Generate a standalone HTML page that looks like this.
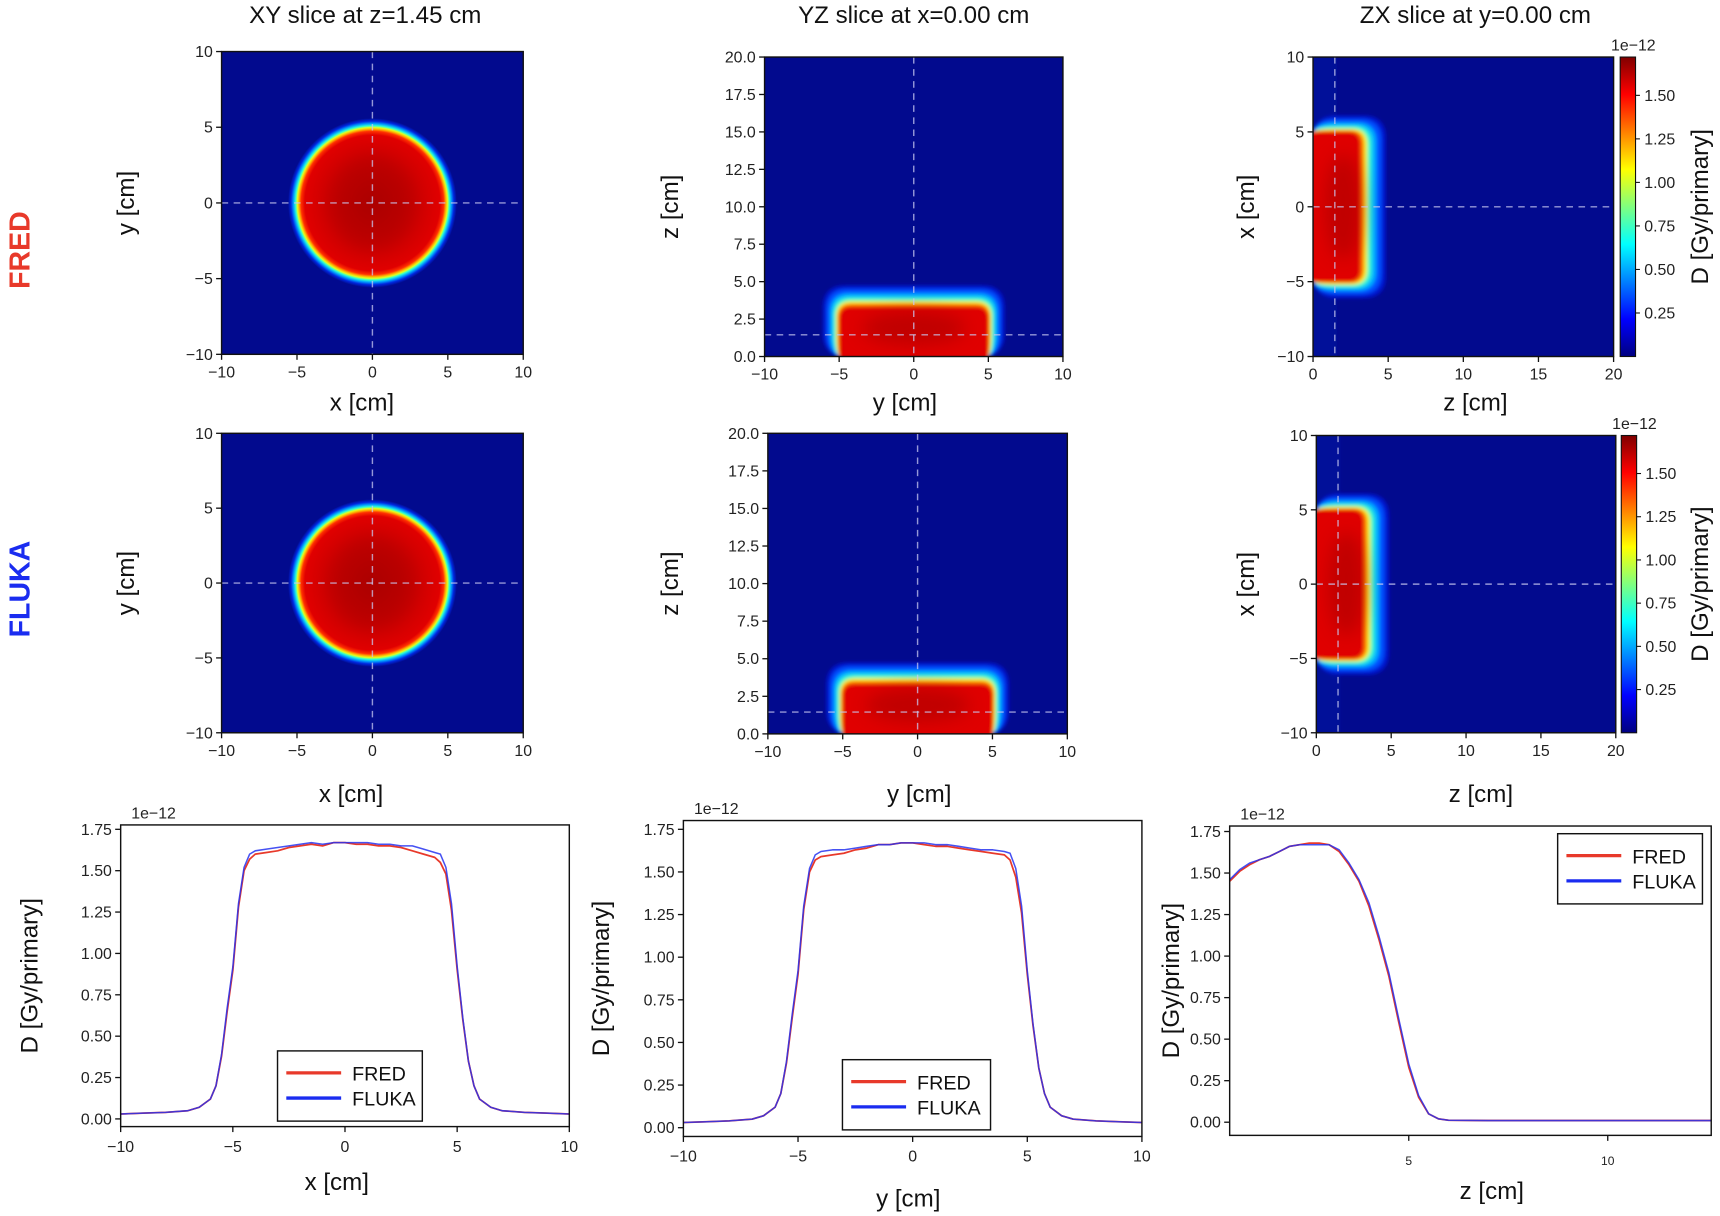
<!DOCTYPE html>
<html><head><meta charset="utf-8">
<style>
html,body{margin:0;padding:0;background:#fff;}
svg{display:block;font-family:"Liberation Sans",sans-serif;}
</style></head>
<body>
<svg id="fig" width="1720" height="1216" viewBox="0 0 1568 1108.5" preserveAspectRatio="none" xmlns="http://www.w3.org/2000/svg">
<defs>
<linearGradient id="jet" x1="0" y1="1" x2="0" y2="0">
<stop offset="0" stop-color="#000080"/><stop offset="0.125" stop-color="#0000ff"/>
<stop offset="0.375" stop-color="#00ffff"/><stop offset="0.625" stop-color="#ffff00"/>
<stop offset="0.875" stop-color="#ff0000"/><stop offset="1" stop-color="#800000"/>
</linearGradient>
<radialGradient id="disk" cx="0.5" cy="0.5" r="0.5">
<stop offset="0" stop-color="#b40000"/><stop offset="0.5" stop-color="#cc0000"/>
<stop offset="0.8" stop-color="#e00000"/><stop offset="0.845" stop-color="#ff3000"/>
<stop offset="0.87" stop-color="#ffb000"/><stop offset="0.89" stop-color="#e0ff20"/>
<stop offset="0.91" stop-color="#30ffd0"/><stop offset="0.935" stop-color="#00a0ff"/>
<stop offset="0.965" stop-color="#0028e0"/><stop offset="1" stop-color="#020a8e"/>
</radialGradient>
<filter id="soft" x="-20%" y="-20%" width="140%" height="140%"><feGaussianBlur stdDeviation="1.6"/></filter>
<filter id="soft2" x="-50%" y="-50%" width="200%" height="200%"><feGaussianBlur stdDeviation="8"/></filter>
</defs>
</svg>
<script>
// ---------- data ----------
const profXs = [-10,-9,-8,-7,-6.5,-6,-5.75,-5.5,-5.25,-5,-4.75,-4.5,-4.25,-4,-3.5,-3,-2.5,-2,-1.5,-1,-0.5,0,0.5,1,1.5,2,2.5,3,3.5,4,4.25,4.5,4.75,5,5.25,5.5,5.75,6,6.5,7,8,9,10];
const xFred  = [0.03,0.035,0.04,0.05,0.07,0.12,0.2,0.38,0.65,0.9,1.28,1.5,1.57,1.6,1.61,1.62,1.64,1.65,1.66,1.65,1.67,1.67,1.66,1.66,1.65,1.65,1.64,1.62,1.6,1.58,1.55,1.48,1.26,0.9,0.6,0.35,0.2,0.12,0.07,0.05,0.04,0.035,0.03];
const xFluka = [0.03,0.035,0.04,0.05,0.07,0.12,0.2,0.39,0.67,0.92,1.3,1.52,1.6,1.62,1.63,1.64,1.65,1.66,1.67,1.66,1.67,1.67,1.67,1.67,1.66,1.66,1.65,1.65,1.63,1.61,1.6,1.52,1.3,0.92,0.61,0.35,0.2,0.12,0.07,0.05,0.04,0.035,0.03];
const yFred  = [0.03,0.035,0.04,0.05,0.07,0.12,0.2,0.38,0.65,0.9,1.28,1.5,1.57,1.59,1.6,1.61,1.63,1.64,1.66,1.66,1.67,1.67,1.66,1.65,1.65,1.64,1.63,1.62,1.61,1.6,1.57,1.47,1.26,0.9,0.6,0.35,0.2,0.12,0.07,0.05,0.04,0.035,0.03];
const yFluka = [0.03,0.035,0.04,0.05,0.07,0.12,0.2,0.39,0.67,0.92,1.3,1.52,1.6,1.62,1.63,1.63,1.64,1.65,1.66,1.66,1.67,1.67,1.67,1.66,1.66,1.65,1.64,1.63,1.63,1.62,1.61,1.52,1.3,0.92,0.61,0.35,0.2,0.12,0.07,0.05,0.04,0.035,0.03];
const depthZs = [0.5,0.75,1,1.25,1.5,1.75,2,2.25,2.5,2.75,3,3.25,3.5,3.75,4,4.25,4.5,4.75,5,5.25,5.5,5.75,6,7,8,10,12,12.6];
const zFred  = [1.45,1.51,1.55,1.58,1.6,1.63,1.66,1.67,1.68,1.68,1.67,1.63,1.55,1.45,1.3,1.1,0.88,0.6,0.33,0.15,0.05,0.02,0.012,0.01,0.01,0.01,0.01,0.01];
const zFluka = [1.46,1.52,1.56,1.58,1.6,1.63,1.66,1.67,1.67,1.67,1.67,1.64,1.56,1.46,1.32,1.12,0.9,0.62,0.35,0.16,0.05,0.02,0.012,0.01,0.01,0.01,0.01,0.01];
const doseTicks = [0,0.25,0.5,0.75,1.0,1.25,1.5,1.75];
const cbarTicks = [0.25,0.5,0.75,1.0,1.25,1.5];
const cbarMax = [1.72];
// dose-level contours of beam (half width, depth extent, colour)
const levelHalfWidth = [6.1,5.85,5.6,5.4,5.22,5.1,5.0];
const levelDepthYZ   = [4.75,4.5,4.2,3.95,3.72,3.52,3.32];
const levelDepthZX   = [4.85,4.55,4.2,3.9,3.62,3.38,3.15];
const levelColors    = ['#0018d0','#0050ff','#00b0ff','#30f8d0','#f0f020','#ff7000','#e00000'];
const beamRadius = [5.0];
const sliceZ = [1.45];

// ---------- helpers ----------
const svg = document.getElementById('fig');
const NS = 'http://www.w3.org/2000/svg';
function mk(tag, attrs, parent){ const e=document.createElementNS(NS,tag); for(const k in attrs) e.setAttribute(k,attrs[k]); (parent||svg).appendChild(e); return e; }
function txt(s, x, y, fs, parent, anchor, extra){ const t=mk('text',Object.assign({x:x,y:y,'font-size':fs,'text-anchor':anchor||'middle',fill:'#222'},extra||{}),parent); t.textContent=s; return t; }
function lin(d0,d1,r0,r1){ return v => r0 + (v-d0)/(d1-d0)*(r1-r0); }
function fmt(v,dec){ const s=Math.abs(v).toFixed(dec); return (v<0?'\u2212':'')+s; }

function axes(g,sx,sy,x0,x1,y0,y1,xt,yt,xdec,ydec,fs){
  const b = mk('rect',{x:x0,y:y0,width:x1-x0,height:y1-y0,fill:'none',stroke:'#111','stroke-width':1.3},g);
   
  xt.forEach(v=>{ const X=sx(v); mk('line',{x1:X,x2:X,y1:y1,y2:y1+5,stroke:'#111','stroke-width':1.2},g);
    const t=txt(fmt(v,xdec),X,y1+21,fs,g);   });
  yt.forEach(v=>{ const Y=sy(v); mk('line',{x1:x0-5,x2:x0,y1:Y,y2:Y,stroke:'#111','stroke-width':1.2},g);
    const t=txt(fmt(v,ydec),x0-8,Y+5,fs,g,'end');   });
}
function rotLabel(s,x,y,fs,parent,color,weight){
  const t=txt(s,0,0,fs,parent,'middle',{transform:`translate(${x},${y}) rotate(-90)`,fill:color||'#111','font-weight':weight||'normal'}); return t;
}

// ---------- titles ----------
[['XY slice at z=1.45 cm',333],['YZ slice at x=0.00 cm',833],['ZX slice at y=0.00 cm',1345]].forEach(([s,x])=>{
  const t=txt(s,x,21,22,svg,'middle',{fill:'#111'});
   
});
let r1=rotLabel('FRED',27,228,26,svg,'#e8392a','bold');
 
let r2=rotLabel('FLUKA',27,537,26,svg,'#1a2cf0','bold');
 

// ---------- heatmap panels ----------
let clipId=0;
function beamPath(sx,sy,w,h,r,orient){
  const P = orient==='yz' ? (a,b)=>[sx(a),sy(b)] : (a,b)=>[sx(b),sy(a)];
  const p=(a,b)=>P(a,b).join(',');
  return `M${p(-5,-0.3)} L${p(-5,0)} Q${p(-w,0.3)} ${p(-w,1.5)} L${p(-w,h-r)} Q${p(-w,h)} ${p(-w+r,h)} L${p(w-r,h)} Q${p(w,h)} ${p(w,h-r)} L${p(w,1.5)} Q${p(w,0.3)} ${p(5,0)} L${p(5,-0.3)} Z`;
}
function heatPanel(c){
  const g=mk('g',{});  
  const sx=lin(c.xd[0],c.xd[1],c.x0,c.x1), sy=lin(c.yd[0],c.yd[1],c.y1,c.y0);
  const id='clip'+(clipId++);
  const cp=mk('clipPath',{id:id},g); mk('rect',{x:c.x0,y:c.y0,width:c.x1-c.x0,height:c.y1-c.y0},cp);
  const hg=mk('g',{'clip-path':`url(#${id})`},g);
  const bg=mk('rect',{x:c.x0,y:c.y0,width:c.x1-c.x0,height:c.y1-c.y0,fill:'#020a8e'},hg);
   
  if(c.type==='xy'){
    const rr=(sx(beamRadius[0])-sx(0))/0.893;
    const ry=(sy(0)-sy(beamRadius[0]))/0.893;
    const e=mk('ellipse',{cx:sx(0),cy:sy(0),rx:rr,ry:ry,fill:'url(#disk)'},hg);
     
    mk('ellipse',{cx:sx(0),cy:sy(0),rx:rr*0.5,ry:ry*0.55,fill:'#a00000',opacity:0.35,filter:'url(#soft2)'},hg);
  } else {
    const bl=mk('g',{filter:'url(#soft)'},hg);
    if(c.type==='zx'){ mk('rect',{x:sx(0),y:c.y0,width:sx(1.6)-sx(0),height:c.y1-c.y0,fill:'#0618a6',opacity:0.45},bl); }
    const depth = c.type==='yz'?levelDepthYZ:levelDepthZX;
    levelHalfWidth.forEach((w,i)=>{
      const p=mk('path',{d:beamPath(sx,sy,w,depth[i],0.8+0.12*(6-i),c.type),fill:levelColors[i]},bl);
       
    });
    if(c.type==='yz') mk('ellipse',{cx:sx(0),cy:sy(1.9),rx:sx(3.5)-sx(0),ry:sy(0)-sy(1.1),fill:'#a00000',opacity:0.5,filter:'url(#soft2)'},hg);
    else mk('ellipse',{cx:sx(2.0),cy:sy(0),rx:sx(1.2)-sx(0),ry:sy(0)-sy(3.5),fill:'#a00000',opacity:0.5,filter:'url(#soft2)'},hg);
  }
  const dash={stroke:'#c8c8f0','stroke-width':1.3,'stroke-dasharray':'6,5',opacity:0.75};
  let vx = c.type==='zx'? sx(sliceZ[0]) : sx(0);
  let hy = c.type==='yz'? sy(sliceZ[0]) : sy(0);
  const l1=mk('line',Object.assign({x1:vx,x2:vx,y1:c.y0,y2:c.y1},dash),hg);  
  const l2=mk('line',Object.assign({x1:c.x0,x2:c.x1,y1:hy,y2:hy},dash),hg);  
  axes(g,sx,sy,c.x0,c.x1,c.y0,c.y1,c.xt,c.yt,0,c.ydec||0,14.5);
  const xl=txt(c.xl,c.xlX,c.xlY,22,g,'middle',{fill:'#111'});  
  const yl=rotLabel(c.yl,c.ylX,(c.y0+c.y1)/2,22,g);  
  if(c.cbar){
    const cb=c.cbar, cg=mk('g',{},g);  
    mk('rect',{x:cb.x,y:c.y0,width:14,height:c.y1-c.y0,fill:'url(#jet)',stroke:'#111','stroke-width':1},cg);
    const cs=lin(0,cbarMax[0],c.y1,c.y0);
    cbarTicks.forEach(v=>{ const Y=cs(v); mk('line',{x1:cb.x+14,x2:cb.x+18,y1:Y,y2:Y,stroke:'#111'},cg);
      const t=txt(v.toFixed(2),cb.x+22,Y+5,14.5,cg,'start');   });
    const ex=txt('1e\u221212',cb.x+12,c.y0-6,14.5,cg,'middle');  
    const lb=rotLabel('D [Gy/primary]',1557,(c.y0+c.y1)/2,22,cg);  
  }
}
const T10=[-10,-5,0,5,10];
heatPanel({name:'fred-xy-slice',type:'xy',x0:202,x1:477,y0:47,y1:323,xd:[-10,10],yd:[-10,10],xt:T10,yt:T10,xl:'x [cm]',xlX:330,xlY:374,yl:'y [cm]',ylX:122});
heatPanel({name:'fred-yz-slice',type:'yz',x0:697,x1:969,y0:52,y1:325,xd:[-10,10],yd:[0,20],xt:T10,yt:[0,2.5,5,7.5,10,12.5,15,17.5,20],ydec:1,xl:'y [cm]',xlX:825,xlY:374,yl:'z [cm]',ylX:618});
heatPanel({name:'fred-zx-slice',type:'zx',x0:1197,x1:1471,y0:52,y1:325,xd:[0,20],yd:[-10,10],xt:[0,5,10,15,20],yt:T10,xl:'z [cm]',xlX:1345,xlY:374,yl:'x [cm]',ylX:1143,cbar:{x:1477}});
heatPanel({name:'fluka-xy-slice',type:'xy',x0:202,x1:477,y0:395,y1:668,xd:[-10,10],yd:[-10,10],xt:T10,yt:T10,xl:'x [cm]',xlX:320,xlY:731,yl:'y [cm]',ylX:122});
heatPanel({name:'fluka-yz-slice',type:'yz',x0:700,x1:973,y0:395,y1:669,xd:[-10,10],yd:[0,20],xt:T10,yt:[0,2.5,5,7.5,10,12.5,15,17.5,20],ydec:1,xl:'y [cm]',xlX:838,xlY:731,yl:'z [cm]',ylX:618});
heatPanel({name:'fluka-zx-slice',type:'zx',x0:1200,x1:1473,y0:397,y1:668,xd:[0,20],yd:[-10,10],xt:[0,5,10,15,20],yt:T10,xl:'z [cm]',xlX:1350,xlY:731,yl:'x [cm]',ylX:1143,cbar:{x:1478}});

// ---------- line profiles ----------
function linePanel(c){
  const g=mk('g',{});  
  const sx=lin(c.xd[0],c.xd[1],c.x0,c.x1);
  const sy=lin(0,1.75,c.zeroY,c.topY);
  const id='clip'+(clipId++);
  const cp=mk('clipPath',{id:id},g); mk('rect',{x:c.x0,y:c.y0,width:c.x1-c.x0,height:c.y1-c.y0},cp);
  const lg=mk('g',{'clip-path':`url(#${id})`},g);
  const dR=c.xs.map((x,i)=>(i?'L':'M')+sx(x).toFixed(1)+','+sy(c.fred[i]).toFixed(1)).join(' ');
  const dB=c.xs.map((x,i)=>(i?'L':'M')+sx(x).toFixed(1)+','+sy(c.fluka[i]).toFixed(1)).join(' ');
  const pr=mk('path',{d:dR,fill:'none',stroke:'#e8392a','stroke-width':1.6,'stroke-linejoin':'round'},lg);
   
  const pb=mk('path',{d:dB,fill:'none',stroke:'#2633f0','stroke-width':1.4,'stroke-linejoin':'round',opacity:0.85},lg);
   
  axes(g,sx,sy,c.x0,c.x1,c.y0,c.y1,[],doseTicks,0,2,14.5);
  c.xt.forEach(v=>{ const X=sx(v); mk('line',{x1:X,x2:X,y1:c.y1,y2:c.y1+5,stroke:'#111','stroke-width':1.2},g);
    const t=txt(fmt(v,0),X,c.y1+(c.smallX?27:23),c.smallX?11:14.5,g);   });
  const ex=txt('1e\u221212',c.x0+30,c.y0-6,14.5,g,'middle');  
  const xl=txt(c.xl,c.xlX,c.xlY,22,g,'middle',{fill:'#111'});  
  const yl=rotLabel('D [Gy/primary]',c.ylX,(c.y0+c.y1)/2,22,g);  
  const L=c.leg, leg=mk('g',{},g);  
  mk('rect',{x:L.x,y:L.y,width:L.w,height:64,fill:'#fff',stroke:'#111','stroke-width':1.3},leg);
  mk('line',{x1:L.x+8,x2:L.x+58,y1:L.y+20,y2:L.y+20,stroke:'#e8392a','stroke-width':3},leg);
  mk('line',{x1:L.x+8,x2:L.x+58,y1:L.y+43,y2:L.y+43,stroke:'#1a2cf0','stroke-width':3},leg);
  const a=txt('FRED',L.x+68,L.y+27,18,leg,'start',{fill:'#111'});  
  const b=txt('FLUKA',L.x+68,L.y+50,18,leg,'start',{fill:'#111'});  
}
linePanel({name:'x-profile-chart',x0:110,x1:519,y0:752,y1:1027,zeroY:1020,topY:756,xd:[-10,10],xt:T10,xs:profXs,fred:xFred,fluka:xFluka,xl:'x [cm]',xlX:307,xlY:1085,ylX:34,leg:{x:253,y:958,w:132}});
linePanel({name:'y-profile-chart',x0:623,x1:1041,y0:748,y1:1036,zeroY:1028,topY:756,xd:[-10,10],xt:T10,xs:profXs,fred:yFred,fluka:yFluka,xl:'y [cm]',xlX:828,xlY:1100,ylX:555,leg:{x:768,y:966,w:135}});
linePanel({name:'z-profile-chart',x0:1121,x1:1560,y0:753,y1:1035,zeroY:1023,topY:758,xd:[0.5,12.6],xt:[5,10],smallX:true,xs:depthZs,fred:zFred,fluka:zFluka,xl:'z [cm]',xlX:1360,xlY:1093,ylX:1075,leg:{x:1420,y:760,w:132}});
</script>
</body></html>
